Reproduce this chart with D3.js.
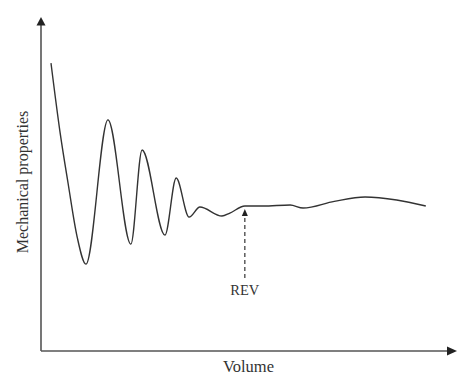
<!DOCTYPE html>
<html>
<head>
<meta charset="utf-8">
<script src="https://cdn.jsdelivr.net/npm/d3@7"></script>
<style>
  body { margin: 0; padding: 0; background: #fff; }
  svg text { font-family: "Liberation Serif", "DejaVu Serif", serif; fill: #333; }
</style>
</head>
<body>
<div id="chart"></div>
<script>
// schematic curve: property vs volume (arbitrary units, 0-100 on both axes)
var volume   = [2.4, 4.6, 6.5, 8.7, 10.8, 16.1, 21.6, 24.3, 29.8, 32.5, 35.6, 38.2, 43.5, 45.4, 49.0, 53.4, 59.9, 63.0, 70.5, 77.9, 85.5, 92.5];
var property = [86.2, 65.3, 50.3, 34.1, 26.0, 69.2, 32.0, 60.2, 34.7, 51.8, 40.1, 43.1, 40.4, 41.3, 43.4, 43.4, 43.7, 42.8, 44.8, 46.1, 45.2, 43.4];
var revVolume = 49.0;
var xLabel = "Volume", yLabel = "Mechanical properties", revLabel = "REV";

var width = 474, height = 388;
var x = d3.scaleLinear().domain([0, 100]).range([41, 457]);
var y = d3.scaleLinear().domain([0, 100]).range([351, 17]);

var svg = d3.select("#chart").append("svg")
  .attr("width", width).attr("height", height);

// axes with arrow heads
var axisColor = "#555";
svg.append("path")
  .attr("d", "M" + x(0) + "," + y(0) + "V" + (y(100) + 7) + "M" + x(0) + "," + y(0) + "H" + (x(100) - 9))
  .attr("fill", "none").attr("stroke", axisColor).attr("stroke-width", 1.6);
svg.append("path")
  .attr("d", "M" + x(0) + "," + y(100) + "l-4.5,8.5h9z")
  .attr("fill", "#222");
svg.append("path")
  .attr("d", "M" + x(100) + "," + y(0) + "l-10,-4.5v9z")
  .attr("fill", "#222");

// the curve
var pts = volume.map(function(v, i) { return [v, property[i]]; });
var line = d3.line()
  .x(function(d) { return x(d[0]); })
  .y(function(d) { return y(d[1]); })
  .curve(d3.curveMonotoneX);
svg.append("path")
  .datum(pts)
  .attr("d", line)
  .attr("fill", "none")
  .attr("stroke", "#333")
  .attr("stroke-width", 1.4);

// REV marker
var rx = x(revVolume);
var ry = y(property[volume.indexOf(revVolume)]);
svg.append("line")
  .attr("x1", rx).attr("x2", rx)
  .attr("y1", ry + 72).attr("y2", ry + 9)
  .attr("stroke", "#333").attr("stroke-width", 1.2)
  .attr("stroke-dasharray", "4,3");
svg.append("path")
  .attr("d", "M" + rx + "," + (ry + 3) + "l-3,7h6z")
  .attr("fill", "#222");
svg.append("text")
  .attr("x", rx).attr("y", ry + 89)
  .attr("text-anchor", "middle")
  .attr("font-size", 14.5)
  .text(revLabel);

// axis titles
svg.append("text")
  .attr("x", 248.5).attr("y", 372)
  .attr("text-anchor", "middle")
  .attr("font-size", 16.5)
  .text(xLabel);
svg.append("text")
  .attr("transform", "translate(28," + 182 + ") rotate(-90)")
  .attr("text-anchor", "middle")
  .attr("font-size", 16)
  .text(yLabel);
</script>
</body>
</html>
